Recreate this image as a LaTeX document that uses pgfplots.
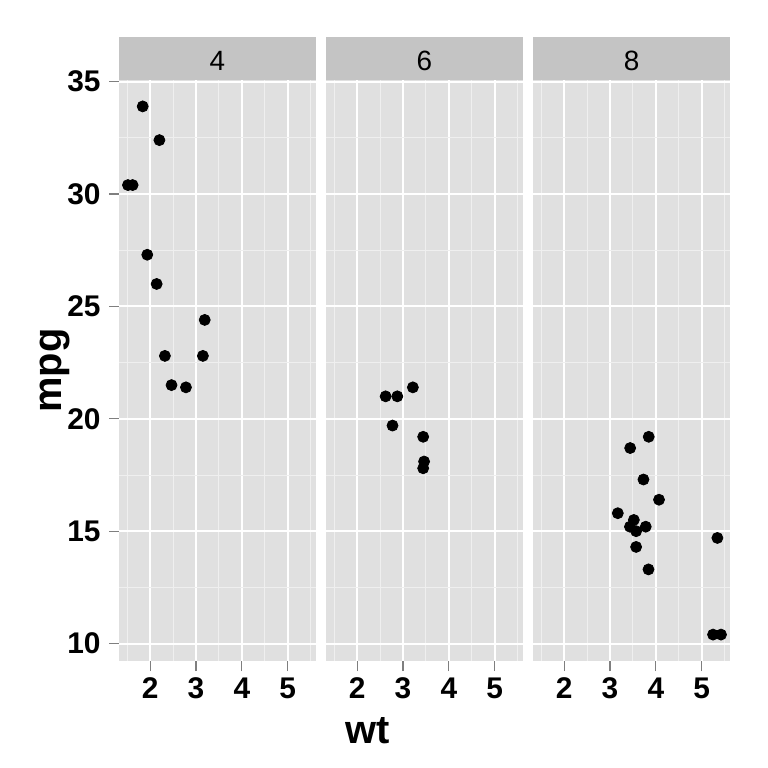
\documentclass[border=0pt]{standalone}
\usepackage{fontspec}
\setmainfont{Liberation Sans}
\usepackage{pgfplots}
\pgfplotsset{compat=1.18}

\definecolor{panelbg}{HTML}{E0E0E0}
\definecolor{stripbg}{HTML}{C4C4C4}
\definecolor{gridminor}{HTML}{EFEFEF}
\definecolor{tickgray}{HTML}{7F7F7F}

\pgfplotsset{
  facet/.style={
    scale only axis, width=98.5bp, height=290.5bp, anchor=south west,
    xmin=1.3175, xmax=5.6205, ymin=9.225, ymax=35.075,
    axis background/.style={fill=panelbg},
    axis line style={draw=none},
    xtick={2,3,4,5}, ytick={10,15,...,35},
    minor xtick={1.5,2.5,3.5,4.5,5.5}, minor ytick={12.5,17.5,...,32.5},
    grid=both,
    major grid style={white, line width=1bp},
    minor grid style={gridminor, line width=0.5bp},
    tick align=outside, tick pos=left,
    major tick length=5bp, minor tick length=0pt,
    tick style={tickgray, line width=0.6bp},
    ticklabel style={font=\bfseries\fontsize{15}{18}\selectfont, text=black},
    /pgf/number format/assume math mode=true,
    clip=false,
  },
  pts/.style={only marks, mark=*, mark size=2.75bp, black},
}

\begin{document}
\begin{tikzpicture}
\useasboundingbox (0,0) rectangle (384bp,384bp);
\fill[white] (0,0) rectangle (384bp,384bp);

% cyl = 4
\begin{axis}[facet, name=p1, at={(59.5bp,53.5bp)},
  yticklabel style={inner sep=0pt, xshift=-4bp}]
\addplot[pts] coordinates {
  (2.320,22.8) (3.190,24.4) (3.150,22.8) (2.200,32.4) (1.615,30.4)
  (1.835,33.9) (2.465,21.5) (1.935,27.3) (2.140,26.0) (1.513,30.4)
  (2.780,21.4)
};
\end{axis}

% cyl = 6
\begin{axis}[facet, name=p2, at={(163bp,53.5bp)},
  yticklabels={}, ytick style={draw=none}]
\addplot[pts] coordinates {
  (2.620,21.0) (2.875,21.0) (3.215,21.4) (3.460,18.1) (3.440,19.2)
  (3.440,17.8) (2.770,19.7)
};
\end{axis}

% cyl = 8
\begin{axis}[facet, name=p3, at={(266.5bp,53.5bp)},
  yticklabels={}, ytick style={draw=none}]
\addplot[pts] coordinates {
  (3.440,18.7) (3.570,14.3) (4.070,16.4) (3.730,17.3) (3.780,15.2)
  (5.250,10.4) (5.424,10.4) (5.345,14.7) (3.520,15.5) (3.435,15.2)
  (3.840,13.3) (3.845,19.2) (3.170,15.8) (3.570,15.0)
};
\end{axis}

% facet strips
\foreach \p/\lab in {p1/4, p2/6, p3/8} {
  \fill[stripbg] (\p.north west) rectangle ([yshift=21.35bp]\p.north east);
  \node[anchor=base, inner sep=0pt, font=\fontsize{14}{17}\selectfont]
    at ([yshift=4.65bp]\p.north) {\lab};
}

% axis titles
\node[anchor=base, inner sep=0pt, font=\bfseries\fontsize{20}{24}\selectfont]
  at (184bp,12.5bp) {wt};
\node[anchor=base, rotate=90, inner sep=0pt, font=\bfseries\fontsize{20}{24}\selectfont]
  at (30.85bp,198.75bp) {mpg};
\end{tikzpicture}
\end{document}
